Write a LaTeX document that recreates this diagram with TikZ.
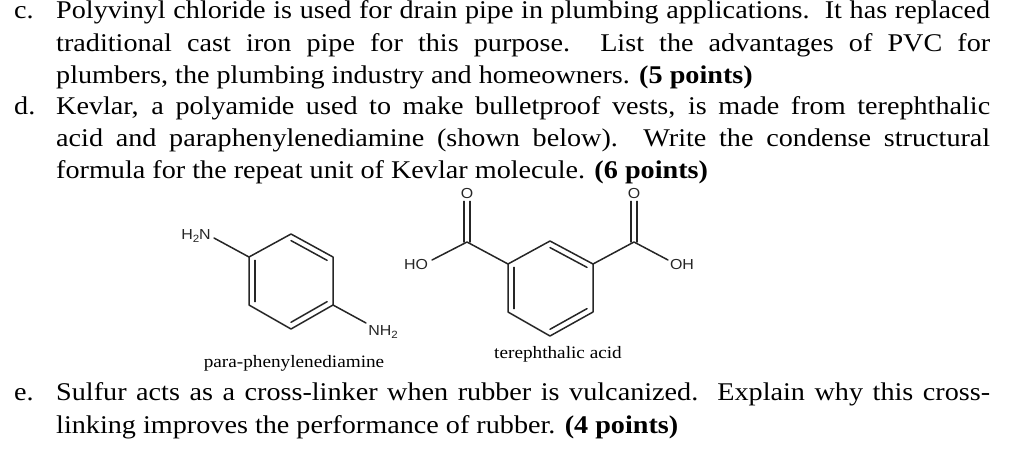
\documentclass[tikz,border=0pt]{standalone}
\usepackage{fontspec}
\setmainfont[FakeStretch=1.105]{Liberation Serif}
\newfontfamily\chemfont[FakeStretch=1.1]{Liberation Sans}
\usetikzlibrary{calc}
\tikzset{
  textline/.style={anchor=base west,inner sep=0pt,font=\fontsize{25.5pt}{30pt}\selectfont},
  atomlabel/.style={inner sep=2pt,text=black!85,font=\chemfont\fontsize{14.5pt}{18pt}\selectfont},
  caption/.style={inner sep=0pt,anchor=base,font=\fontsize{17.4pt}{20pt}\selectfont},
  bond/.style={line width=1.5pt,black!85}
}
% one justified line of the question text
\newcommand{\qline}[3]{\node[textline] (#1) at (56,#2) {\makebox[934pt][s]{#3}};}
% inner stroke of a ring double bond
\newcommand{\innerbond}[3]{\draw[bond] ($(#1)!.14!(#3)$) -- ($(#2)!.14!(#3)$);}
\newcommand{\subtwo}{\raisebox{-.3ex}{\fontsize{10.5pt}{12pt}\selectfont 2}}
\begin{document}
\begin{tikzpicture}[x=1pt,y=-1pt,line cap=round,line join=round]
  \useasboundingbox (0,0) rectangle (1024,461);
  % question text
  \node[textline] (labc) at (14,18) {c.};
  \qline{cone}{18}{Polyvinyl chloride is used for drain pipe in plumbing applications.\ \ It has replaced}
  \qline{ctwo}{51}{traditional cast iron pipe for this purpose.\ \ List the advantages of PVC for}
  \node[textline] (cthree) at (56,83) {plumbers, the plumbing industry and homeowners. \textbf{(5 points)}};
  \node[textline] (labd) at (14,114) {d.};
  \qline{done}{114}{Kevlar, a polyamide used to make bulletproof vests, is made from terephthalic}
  \qline{dtwo}{146}{acid and paraphenylenediamine (shown below).\ \ Write the condense structural}
  \node[textline] (dthree) at (56,178) {formula for the repeat unit of Kevlar molecule. \textbf{(6 points)}};
  \node[textline] (labe) at (14,400) {e.};
  \qline{eone}{400}{Sulfur acts as a cross-linker when rubber is vulcanized.\ \ Explain why this cross-}
  \node[textline] (etwo) at (56,433) {linking improves the performance of rubber. \textbf{(4 points)}};
  % para-phenylenediamine
  \coordinate (c1) at (291,281);
  \coordinate (a1) at (291,234);
  \coordinate (a2) at (333,257);
  \coordinate (a3) at (333,305);
  \coordinate (a4) at (291,329);
  \coordinate (a5) at (249,305);
  \coordinate (a6) at (249,257);
  \coordinate (hnend) at (214,238);
  \coordinate (nhend) at (366,323);
  \node[atomlabel] (hn) at (196,236) {H\subtwo N};
  \node[atomlabel] (nh) at (383,332) {NH\subtwo};
  \draw[bond] (a1)--(a2)--(a3)--(a4)--(a5)--(a6)--cycle;
  \innerbond{a1}{a2}{c1}
  \innerbond{a3}{a4}{c1}
  \innerbond{a5}{a6}{c1}
  \draw[bond] (a6) -- (hnend);
  \draw[bond] (a3) -- (nhend);
  % terephthalic acid
  \coordinate (c2) at (550,288);
  \coordinate (b1) at (550,241);
  \coordinate (b2) at (593,264);
  \coordinate (b3) at (593,312);
  \coordinate (b4) at (550,336);
  \coordinate (b5) at (508,312);
  \coordinate (b6) at (508,264);
  \coordinate (cl) at (467,242);
  \coordinate (cr) at (634,242);
  \coordinate (hoend) at (432,260);
  \coordinate (ohend) at (668,260);
  \node[atomlabel] (ol) at (467,194) {O};
  \node[atomlabel] (or) at (634,194) {O};
  \node[atomlabel] (ho) at (416,265) {HO};
  \node[atomlabel] (oh) at (682,265) {OH};
  \draw[bond] (b1)--(b2)--(b3)--(b4)--(b5)--(b6)--cycle;
  \innerbond{b1}{b2}{c2}
  \innerbond{b3}{b4}{c2}
  \innerbond{b5}{b6}{c2}
  \draw[bond] (b6) -- (cl) -- (hoend);
  \draw[bond] (b2) -- (cr) -- (ohend);
  \draw[bond,transform canvas={xshift=-3.2pt}] (cl) -- (ol);
  \draw[bond,transform canvas={xshift=3.2pt}] (cl) -- (ol);
  \draw[bond,transform canvas={xshift=-3.2pt}] (cr) -- (or);
  \draw[bond,transform canvas={xshift=3.2pt}] (cr) -- (or);
  % captions
  \node[caption] (capa) at (294,367) {para-phenylenediamine};
  \node[caption] (capb) at (558,358) {terephthalic acid};
\end{tikzpicture}
\end{document}
